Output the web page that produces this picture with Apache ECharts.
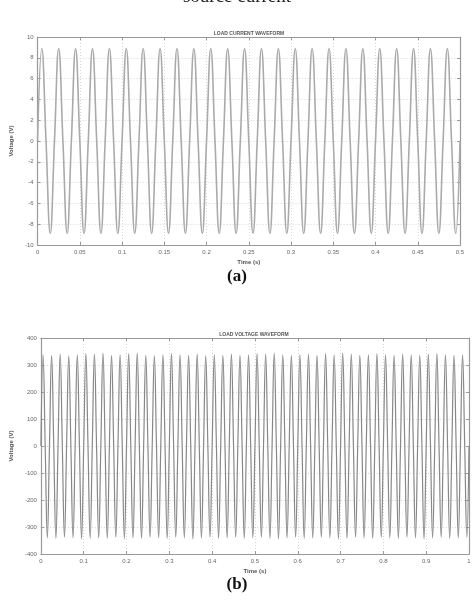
<!DOCTYPE html>
<html>
<head>
<meta charset="utf-8">
<script src="https://cdn.jsdelivr.net/npm/echarts@6/dist/echarts.min.js"></script>
<style>
html,body{margin:0;padding:0;background:#fff;}
#c{width:474px;height:604px;}
</style>
</head>
<body>
<div id="c"></div>
<script>
// ---- Data ----
// (a) load current: 50 Hz, 25 cycles over 0.5 s
var currentPeriod = 0.02;
var currentPeaks = [8.9,8.9,8.9,8.9,8.9,8.9,8.9,8.9,8.9,8.9,8.9,8.9,8.9,8.9,8.9,8.9,8.9,8.9,8.9,8.9,8.9,8.9,8.9,8.9,8.9];
var currentTroughs = [-8.9,-8.9,-8.9,-8.9,-8.9,-8.9,-8.9,-8.9,-8.9,-8.9,-8.9,-8.9,-8.9,-8.9,-8.9,-8.9,-8.9,-8.9,-8.9,-8.9,-8.9,-8.9,-8.9,-8.9,-8.9];
// (b) load voltage: 50 Hz, 50 cycles over 1 s
var voltagePeriod = 0.02;
var voltagePeaks = [338,336,340,334,338,342,340,344,336,338,342,344,336,334,338,342,338,336,340,334,338,336,340,336,338,342,340,344,338,336,338,340,336,342,338,344,340,336,338,342,338,336,340,338,336,340,342,338,336,338];
var voltageTroughs = [-340,-342,-338,-340,-344,-342,-340,-342,-338,-344,-340,-342,-338,-340,-342,-338,-340,-344,-340,-338,-342,-340,-338,-342,-340,-338,-342,-344,-340,-338,-342,-340,-338,-340,-344,-342,-338,-340,-342,-338,-340,-342,-338,-340,-344,-340,-338,-342,-340,-338];
var currentYTicks = [-10,-8,-6,-4,-2,0,2,4,6,8,10];
var voltageYTicks = [-400,-300,-200,-100,0,100,200,300,400];

function wave(period, peaks, troughs){
  var pts = [];
  for (var k = 0; k < peaks.length; k++){
    var t0 = k * period;
    pts.push([t0, 0]);
    pts.push([t0 + period/4, peaks[k]]);
    pts.push([t0 + period/2, 0]);
    pts.push([t0 + 3*period/4, troughs[k]]);
  }
  pts.push([peaks.length * period, 0]);
  return pts;
}

var chart = echarts.init(document.getElementById('c'), null, {renderer:'canvas'});
var labelFont = {fontFamily:'Liberation Sans', fontSize:6, color:'#666'};
var frame = {show:true, onZero:false, lineStyle:{color:'#999', width:1.2}};
var grid = {show:true, lineStyle:{color:'#d6d6d6', type:[1,2], width:1}};
var tick = {show:true, inside:true, length:3, lineStyle:{color:'#999'}};

function mainX(idx, max, interval, fmt){
  return {type:'value', gridIndex:idx, position:'bottom', min:0, max:max, interval:interval,
    name:'Time (s)', nameLocation:'middle', nameGap:14,
    nameTextStyle:{fontFamily:'Liberation Sans', fontSize:6, fontWeight:'bold', color:'#555'},
    axisLine:frame, axisTick:tick,
    axisLabel:Object.assign({margin:4, formatter:fmt}, labelFont),
    splitLine:grid};
}
function topX(idx, max, interval){
  return {type:'value', gridIndex:idx, position:'top', min:0, max:max, interval:interval,
    axisLine:frame, axisTick:tick,
    axisLabel:{show:false}, splitLine:{show:false}};
}
function mainY(idx, min, max, interval){
  return {type:'value', gridIndex:idx, position:'left', min:min, max:max, interval:interval,
    name:'Voltage (V)', nameLocation:'middle', nameGap:16,
    nameTextStyle:{fontFamily:'Liberation Sans', fontSize:6, fontWeight:'bold', color:'#555'},
    axisLine:frame, axisTick:tick,
    axisLabel:Object.assign({margin:4}, labelFont),
    splitLine:grid};
}
function rightY(idx, min, max, interval){
  return {type:'value', gridIndex:idx, position:'right', min:min, max:max, interval:interval,
    axisLine:frame, axisTick:tick,
    axisLabel:{show:false}, splitLine:{show:false}};
}

var option = {
  animation:false,
  backgroundColor:'#fff',
  title:[
    {text:'LOAD CURRENT WAVEFORM', left:244, top:26, textAlign:'center',
     textStyle:{fontFamily:'Liberation Sans', fontSize:5, fontWeight:'bold', color:'#555'}},
    {text:'LOAD VOLTAGE WAVEFORM', left:249, top:327, textAlign:'center',
     textStyle:{fontFamily:'Liberation Sans', fontSize:5, fontWeight:'bold', color:'#555'}}
  ],
  graphic:[
    {type:'text', left:'center', top:-12, style:{text:'source current', font:'19px "Liberation Serif"', fill:'#222'}},
    {type:'text', left:'center', top:268, style:{text:'(a)', font:'bold 17px "Liberation Serif"', fill:'#111'}},
    {type:'text', left:'center', top:576, style:{text:'(b)', font:'bold 17px "Liberation Serif"', fill:'#111'}}
  ],
  grid:[
    {left:28, top:37, width:432, height:208},
    {left:28, top:338, width:441, height:216}
  ],
  xAxis:[
    mainX(0, 0.5, 0.05, function(v){ return v === 0 ? '0' : String(+v.toFixed(2)); }),
    topX(0, 0.5, 0.05),
    mainX(1, 1, 0.1, function(v){ return v === 0 ? '0' : String(+v.toFixed(1)); }),
    topX(1, 1, 0.1)
  ],
  yAxis:[
    mainY(0, -10, 10, 2),
    rightY(0, -10, 10, 2),
    mainY(1, -400, 400, 100),
    rightY(1, -400, 400, 100)
  ],
  series:[
    {type:'line', xAxisIndex:0, yAxisIndex:0, data:wave(currentPeriod, currentPeaks, currentTroughs),
     smooth:0.45, showSymbol:false, lineStyle:{color:'#aaa', width:1.6}},
    {type:'line', xAxisIndex:2, yAxisIndex:2, data:wave(voltagePeriod, voltagePeaks, voltageTroughs),
     smooth:0.45, showSymbol:false, lineStyle:{color:'#888', width:1.2}}
  ]
};
chart.setOption(option);
</script>
</body>
</html>
